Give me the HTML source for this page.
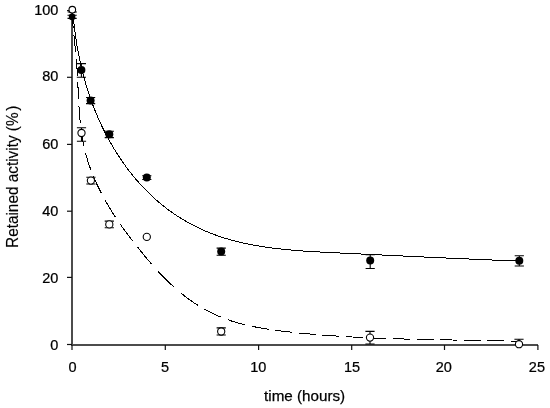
<!DOCTYPE html>
<html><head><meta charset="utf-8"><style>
html,body{margin:0;padding:0;background:#fff;width:550px;height:408px;overflow:hidden}
svg{display:block}
text{font-family:"Liberation Sans",Arial,sans-serif;font-size:15.2px;fill:#000;stroke:#000;stroke-width:0.25px}
text.t{font-size:15.2px;stroke-width:0.25px}
</style></head><body>
<svg width="550" height="408" viewBox="0 0 550 408">
<rect width="550" height="408" fill="#fff"/>
<g stroke="#4c4c4c" stroke-width="2" fill="none">
<path d="M72,10 V345"/>
<path d="M71,345 H538"/>
</g>
<g stroke="#111" stroke-width="1.2" fill="none">
<path d="M72,345 V350"/>
<path d="M165.3,345 V350"/>
<path d="M258.6,345 V350"/>
<path d="M351.7,345 V350"/>
<path d="M444.5,345 V350"/>
<path d="M537.9,345 V350"/>
<path d="M67,344.5 H72"/>
<path d="M67,277.4 H72"/>
<path d="M67,211.2 H72"/>
<path d="M67,144.4 H72"/>
<path d="M67,77.3 H72"/>
<path d="M67,10.6 H72"/>
</g>
<g><text transform="translate(58.4,349.50) scale(0.955,1)" text-anchor="end">0</text><text transform="translate(58.4,282.95) scale(0.955,1)" text-anchor="end">20</text><text transform="translate(58.4,215.65) scale(0.955,1)" text-anchor="end">40</text><text transform="translate(58.4,149.05) scale(0.955,1)" text-anchor="end">60</text><text transform="translate(58.4,81.45) scale(0.955,1)" text-anchor="end">80</text><text transform="translate(58.4,15.45) scale(0.955,1)" text-anchor="end">100</text></g>
<g><text transform="translate(72.6,372.2) scale(0.955,1)" text-anchor="middle">0</text><text transform="translate(165.0,372.2) scale(0.955,1)" text-anchor="middle">5</text><text transform="translate(258.3,372.2) scale(0.955,1)" text-anchor="middle">10</text><text transform="translate(352.1,372.2) scale(0.955,1)" text-anchor="middle">15</text><text transform="translate(443.8,372.2) scale(0.955,1)" text-anchor="middle">20</text><text transform="translate(536.9,372.2) scale(0.955,1)" text-anchor="middle">25</text></g>
<text class="t" x="304.6" y="401.2" text-anchor="middle">time (hours)</text>
<text class="t" transform="translate(17.7,176.8) rotate(-90) scale(0.93,1)" text-anchor="middle" style="font-size:16.5px;stroke-width:0.15px">Retained activity (%<tspan dx="1.8">)</tspan></text>
<path d="M72.01,11.43 L72.02,11.89 L72.05,12.52 L72.08,13.16 L72.11,13.79 L72.14,14.43 L72.18,15.07 L72.21,15.71 L72.25,16.34 L72.29,16.98 L72.33,17.62 L72.37,18.26 L72.42,18.91 L72.46,19.55 L72.51,20.19 L72.56,20.83 L72.61,21.48 L72.66,22.12 L72.71,22.77 L72.76,23.41 L72.82,24.06 L72.87,24.70 L72.93,25.35 L72.98,26.00 L73.04,26.65 L73.10,27.30 L73.16,27.94 L73.21,28.43 M73.87,35.01 L73.92,35.56 L73.99,36.21 L74.06,36.87 L74.13,37.52 L74.20,38.18 L74.27,38.84 L74.34,39.49 L74.41,40.15 L74.48,40.81 L74.55,41.47 L74.62,42.13 L74.69,42.79 L74.76,43.45 L74.83,44.11 L74.90,44.77 L74.97,45.43 L75.04,46.09 L75.11,46.75 L75.18,47.41 L75.25,48.07 L75.32,48.74 L75.39,49.40 L75.45,50.06 L75.52,50.73 L75.59,51.39 L75.65,52.01 M76.27,58.59 L76.31,59.15 L76.37,59.82 L76.43,60.49 L76.48,61.15 L76.54,61.82 L76.59,62.49 L76.64,63.16 L76.69,63.82 L76.74,64.49 L76.79,65.16 L76.83,65.83 L76.88,66.50 L76.93,67.17 L76.97,67.84 L77.01,68.50 L77.06,69.17 L77.10,69.84 L77.14,70.51 L77.18,71.18 L77.22,71.85 L77.26,72.52 L77.30,73.19 L77.34,73.86 L77.37,74.53 L77.41,75.20 L77.43,75.59 M77.76,82.17 L77.79,82.79 L77.83,83.46 L77.86,84.13 L77.89,84.80 L77.92,85.47 L77.95,86.14 L77.98,86.81 L78.01,87.48 L78.04,88.15 L78.08,88.82 L78.11,89.49 L78.14,90.16 L78.17,90.83 L78.20,91.50 L78.23,92.17 L78.26,92.84 L78.29,93.51 L78.33,94.18 L78.36,94.85 L78.39,95.52 L78.42,96.19 L78.46,96.85 L78.49,97.52 L78.52,98.19 L78.56,98.86 L78.57,99.17 M78.94,105.75 L78.98,106.41 L79.02,107.08 L79.06,107.75 L79.11,108.41 L79.15,109.07 L79.20,109.74 L79.24,110.40 L79.29,111.07 L79.34,111.73 L79.38,112.39 L79.43,113.06 L79.48,113.72 L79.53,114.38 L79.59,115.04 L79.64,115.70 L79.70,116.37 L79.75,117.03 L79.81,117.69 L79.87,118.35 L79.93,119.01 L79.99,119.67 L80.05,120.33 L80.11,120.98 L80.18,121.64 L80.24,122.30 L80.29,122.75 M81.05,129.33 L81.12,129.95 L81.21,130.60 L81.30,131.25 L81.39,131.90 L81.48,132.55 L81.57,133.20 L81.67,133.85 L81.76,134.50 L81.86,135.15 L81.96,135.80 L82.07,136.45 L82.17,137.09 L82.28,137.74 L82.39,138.39 L82.50,139.03 L82.61,139.68 L82.73,140.32 L82.84,140.96 L82.96,141.61 L83.08,142.25 L83.21,142.89 L83.33,143.53 L83.46,144.18 L83.59,144.82 L83.73,145.45 L83.86,146.09 L83.91,146.33 M85.48,152.91 L85.63,153.50 L85.80,154.13 L85.97,154.76 L86.14,155.39 L86.32,156.02 L86.50,156.64 L86.68,157.27 L86.86,157.90 L87.05,158.52 L87.24,159.15 L87.43,159.77 L87.62,160.40 L87.82,161.02 L88.01,161.64 L88.21,162.26 L88.42,162.88 L88.62,163.50 L88.83,164.12 L89.04,164.74 L89.25,165.36 L89.47,165.98 L89.68,166.59 L89.90,167.21 L90.12,167.82 L90.35,168.44 L90.57,169.05 L90.80,169.66 L90.89,169.91 M93.51,176.49 L93.71,176.97 L93.96,177.57 L94.22,178.18 L94.48,178.78 L94.74,179.38 L95.00,179.98 L95.27,180.58 L95.54,181.18 L95.81,181.78 L96.08,182.38 L96.35,182.98 L96.62,183.57 L96.90,184.17 L97.18,184.77 L97.46,185.36 L97.74,185.96 L98.03,186.55 L98.31,187.14 L98.60,187.74 L98.89,188.33 L99.18,188.92 L99.47,189.51 L99.77,190.10 L100.06,190.69 L100.36,191.28 L100.66,191.86 L100.96,192.45 L101.26,193.04 L101.50,193.49 M105.05,200.07 L105.34,200.59 L105.66,201.17 L105.99,201.74 L106.32,202.32 L106.65,202.89 L106.98,203.47 L107.31,204.04 L107.64,204.61 L107.97,205.18 L108.31,205.76 L108.65,206.33 L108.99,206.89 L109.33,207.46 L109.67,208.03 L110.01,208.60 L110.35,209.17 L110.70,209.73 L111.05,210.30 L111.40,210.86 L111.75,211.43 L112.10,211.99 L112.45,212.55 L112.81,213.11 L113.17,213.68 L113.52,214.24 L113.88,214.80 L114.24,215.35 L114.61,215.91 L114.97,216.47 L115.34,217.03 L115.36,217.07 M119.84,223.65 L120.10,224.03 L120.49,224.57 L120.88,225.12 L121.27,225.67 L121.66,226.21 L122.05,226.76 L122.44,227.30 L122.84,227.84 L123.23,228.39 L123.63,228.93 L124.03,229.47 L124.43,230.01 L124.83,230.55 L125.23,231.09 L125.63,231.63 L126.03,232.17 L126.44,232.71 L126.84,233.24 L127.24,233.78 L127.65,234.31 L128.06,234.85 L128.46,235.38 L128.87,235.92 L129.28,236.45 L129.68,236.98 L130.09,237.51 L130.50,238.04 L130.91,238.57 L131.31,239.10 L131.72,239.63 L132.13,240.16 L132.51,240.65 M137.65,247.23 L137.98,247.64 L138.39,248.16 L138.80,248.68 L139.21,249.19 L139.62,249.71 L140.03,250.22 L140.44,250.74 L140.85,251.25 L141.26,251.76 L141.67,252.27 L142.08,252.78 L142.50,253.30 L142.91,253.80 L143.33,254.31 L143.74,254.82 L144.16,255.33 L144.57,255.84 L144.99,256.34 L145.41,256.85 L145.82,257.35 L146.24,257.86 L146.66,258.36 L147.08,258.86 L147.50,259.36 L147.93,259.87 L148.35,260.37 L148.77,260.87 L149.20,261.37 L149.62,261.86 L150.05,262.36 L150.48,262.86 L150.91,263.36 L151.34,263.85 L151.67,264.23 M157.57,270.81 L157.93,271.21 L158.38,271.69 L158.84,272.18 L159.29,272.66 L159.75,273.14 L160.20,273.62 L160.66,274.11 L161.12,274.59 L161.58,275.06 L162.04,275.54 L162.51,276.02 L162.97,276.50 L163.44,276.97 L163.91,277.45 L164.38,277.92 L164.85,278.39 L165.32,278.86 L165.80,279.33 L166.27,279.80 L166.75,280.27 L167.23,280.74 L167.71,281.20 L168.19,281.67 L168.67,282.13 L169.16,282.59 L169.64,283.05 L170.13,283.51 L170.62,283.97 L171.11,284.43 L171.60,284.88 L172.09,285.34 L172.59,285.79 L173.08,286.24 L173.58,286.69 L174.08,287.14 L174.27,287.31 M180.85,292.95 L181.19,293.23 L181.71,293.65 L182.23,294.07 L182.75,294.49 L183.27,294.91 L183.80,295.32 L184.32,295.73 L184.85,296.14 L185.38,296.55 L185.91,296.95 L186.44,297.36 L186.97,297.76 L187.50,298.16 L188.03,298.55 L188.57,298.95 L189.11,299.34 L189.64,299.73 L190.18,300.12 L190.72,300.51 L191.27,300.89 L191.81,301.27 L192.35,301.65 L192.90,302.02 L193.44,302.40 L193.99,302.77 L194.54,303.14 L195.09,303.50 L195.64,303.86 L196.20,304.22 L196.75,304.58 L197.31,304.94 L197.85,305.28 M204.43,309.19 L204.83,309.42 L205.40,309.73 L205.97,310.05 L206.55,310.36 L207.13,310.67 L207.70,310.97 L208.28,311.28 L208.86,311.58 L209.44,311.88 L210.02,312.17 L210.61,312.46 L211.19,312.75 L211.78,313.04 L212.36,313.32 L212.95,313.61 L213.54,313.89 L214.13,314.16 L214.72,314.44 L215.31,314.71 L215.90,314.98 L216.50,315.24 L217.09,315.50 L217.69,315.77 L218.29,316.02 L218.89,316.28 L219.49,316.53 L220.09,316.78 L220.69,317.03 L221.29,317.27 L221.43,317.33 M228.01,319.80 L228.61,320.01 L229.23,320.22 L229.85,320.43 L230.47,320.63 L231.09,320.84 L231.71,321.04 L232.33,321.24 L232.95,321.43 L233.58,321.63 L234.20,321.82 L234.83,322.01 L235.45,322.19 L236.08,322.38 L236.71,322.56 L237.34,322.74 L237.97,322.92 L238.60,323.09 L239.23,323.27 L239.86,323.44 L240.50,323.61 L241.13,323.77 L241.77,323.94 L242.40,324.10 L243.04,324.26 L243.68,324.42 L244.32,324.58 L244.96,324.73 L245.01,324.75 M251.59,326.22 L252.03,326.32 L252.68,326.45 L253.33,326.58 L253.98,326.71 L254.63,326.84 L255.28,326.97 L255.93,327.10 L256.58,327.22 L257.23,327.34 L257.88,327.46 L258.54,327.58 L259.19,327.70 L259.84,327.82 L260.50,327.94 L261.15,328.05 L261.81,328.16 L262.46,328.28 L263.12,328.39 L263.78,328.49 L264.43,328.60 L265.09,328.71 L265.75,328.82 L266.41,328.92 L267.07,329.02 L267.73,329.13 L268.39,329.23 L268.59,329.26 M275.17,330.21 L275.67,330.28 L276.33,330.37 L277.00,330.46 L277.66,330.54 L278.32,330.63 L278.99,330.72 L279.65,330.80 L280.32,330.89 L280.98,330.97 L281.65,331.05 L282.31,331.14 L282.98,331.22 L283.65,331.30 L284.31,331.38 L284.98,331.46 L285.64,331.54 L286.31,331.61 L286.98,331.69 L287.64,331.77 L288.31,331.84 L288.98,331.92 L289.64,331.99 L290.31,332.07 L290.98,332.14 L291.65,332.21 L292.17,332.27 M298.75,332.95 L299.20,333.00 L299.87,333.06 L300.54,333.13 L301.20,333.19 L301.87,333.26 L302.53,333.32 L303.20,333.39 L303.87,333.45 L304.53,333.51 L305.20,333.57 L305.86,333.64 L306.53,333.70 L307.19,333.76 L307.86,333.82 L308.52,333.88 L309.19,333.94 L309.85,334.00 L310.52,334.06 L311.18,334.12 L311.85,334.17 L312.51,334.23 L313.18,334.29 L313.84,334.35 L314.51,334.40 L315.17,334.46 L315.75,334.51 M322.33,335.04 L322.91,335.08 L323.58,335.13 L324.24,335.18 L324.90,335.23 L325.57,335.28 L326.23,335.33 L326.89,335.38 L327.55,335.43 L328.22,335.48 L328.88,335.53 L329.54,335.57 L330.20,335.62 L330.87,335.67 L331.53,335.71 L332.19,335.76 L332.85,335.81 L333.52,335.85 L334.18,335.90 L334.84,335.94 L335.50,335.99 L336.16,336.03 L336.83,336.07 L337.49,336.12 L338.15,336.16 L338.81,336.20 L339.33,336.23 M345.91,336.64 L346.52,336.67 L347.19,336.71 L347.85,336.75 L348.51,336.79 L349.17,336.82 L349.83,336.86 L350.49,336.90 L351.15,336.93 L351.81,336.97 L352.47,337.00 L353.13,337.04 L353.79,337.08 L354.45,337.11 L355.11,337.14 L355.77,337.18 L356.43,337.21 L357.09,337.25 L357.75,337.28 L358.41,337.31 L359.07,337.35 L359.73,337.38 L360.39,337.41 L361.05,337.44 L361.71,337.47 L362.37,337.51 L362.91,337.53 M369.49,337.83 L370.07,337.85 L370.73,337.88 L371.39,337.91 L372.05,337.93 L372.71,337.96 L373.37,337.99 L374.03,338.02 L374.69,338.04 L375.34,338.07 L376.00,338.09 L376.66,338.12 L377.32,338.15 L377.98,338.17 L378.64,338.20 L379.30,338.22 L379.96,338.25 L380.62,338.27 L381.28,338.29 L381.94,338.32 L382.60,338.34 L383.25,338.37 L383.91,338.39 L384.57,338.41 L385.23,338.43 L385.89,338.46 L386.49,338.48 M393.07,338.69 L393.58,338.71 L394.24,338.73 L394.90,338.75 L395.56,338.77 L396.22,338.79 L396.88,338.81 L397.53,338.83 L398.19,338.84 L398.85,338.86 L399.51,338.88 L400.17,338.90 L400.83,338.92 L401.49,338.94 L402.15,338.96 L402.81,338.97 L403.47,338.99 L404.12,339.01 L404.78,339.03 L405.44,339.04 L406.10,339.06 L406.76,339.08 L407.42,339.10 L408.08,339.11 L408.74,339.13 L409.40,339.14 L410.06,339.16 L410.07,339.16 M416.65,339.32 L417.09,339.33 L417.75,339.34 L418.41,339.36 L419.07,339.37 L419.73,339.39 L420.39,339.40 L421.05,339.41 L421.71,339.43 L422.37,339.44 L423.03,339.46 L423.69,339.47 L424.35,339.48 L425.01,339.50 L425.67,339.51 L426.33,339.52 L426.99,339.54 L427.65,339.55 L428.31,339.56 L428.97,339.58 L429.63,339.59 L430.29,339.60 L430.95,339.62 L431.61,339.63 L432.27,339.64 L432.93,339.65 L433.59,339.67 L433.65,339.67 M440.23,339.79 L440.85,339.80 L441.52,339.81 L442.18,339.82 L442.84,339.84 L443.50,339.85 L444.16,339.86 L444.82,339.87 L445.48,339.88 L446.14,339.89 L446.80,339.90 L447.47,339.92 L448.13,339.93 L448.79,339.94 L449.45,339.95 L450.11,339.96 L450.77,339.97 L451.44,339.98 L452.10,340.00 L452.76,340.01 L453.42,340.02 L454.08,340.03 L454.75,340.04 L455.41,340.05 L456.07,340.06 L456.73,340.07 L457.23,340.08 M463.81,340.19 L464.46,340.21 L465.13,340.22 L465.79,340.23 L466.45,340.24 L467.12,340.25 L467.78,340.26 L468.45,340.27 L469.11,340.29 L469.77,340.30 L470.44,340.31 L471.10,340.32 L471.76,340.33 L472.43,340.34 L473.09,340.35 L473.76,340.37 L474.42,340.38 L475.09,340.39 L475.75,340.40 L476.42,340.41 L477.08,340.43 L477.75,340.44 L478.41,340.45 L479.08,340.46 L479.74,340.47 L480.41,340.49 L480.81,340.49 M487.39,340.62 L487.95,340.63 L488.62,340.64 L489.29,340.66 L489.95,340.67 L490.62,340.68 L491.29,340.70 L491.95,340.71 L492.62,340.72 L493.29,340.74 L493.95,340.75 L494.62,340.77 L495.29,340.78 L495.96,340.80 L496.62,340.81 L497.29,340.82 L497.96,340.84 L498.63,340.85 L499.30,340.87 L499.97,340.88 L500.63,340.90 L501.30,340.91 L501.97,340.93 L502.64,340.94 L503.31,340.96 L503.98,340.98 L504.39,340.99 M510.97,341.15 L511.57,341.16 L512.24,341.18 L512.91,341.20 L513.58,341.22 L514.25,341.23 L514.92,341.25 L515.60,341.27 L516.27,341.29 L516.94,341.31 L517.61,341.33 L518.28,341.35 L518.95,341.36 L519.18,341.37" stroke="#000" stroke-width="1" fill="none" shape-rendering="crispEdges"/>
<path d="M73.23,16.49 L73.33,17.62 L73.44,18.75 L73.56,19.88 L73.67,21.01 L73.79,22.14 L73.91,23.27 L74.04,24.40 L74.16,25.53 L74.30,26.66 L74.43,27.80 L74.57,28.93 L74.71,30.06 L74.86,31.20 L75.01,32.33 L75.16,33.46 L75.31,34.60 L75.47,35.73 L75.64,36.87 L75.80,38.00 L75.97,39.14 L76.15,40.27 L76.33,41.41 L76.51,42.54 L76.69,43.68 L76.88,44.81 L77.07,45.95 L77.27,47.08 L77.47,48.22 L77.67,49.35 L77.88,50.48 L78.09,51.62 L78.30,52.75 L78.52,53.89 L78.74,55.02 L78.97,56.15 L79.20,57.29 L79.43,58.42 L79.67,59.55 L79.91,60.68 L80.16,61.81 L80.41,62.95 L80.66,64.08 L80.92,65.21 L81.18,66.34 L81.44,67.46 L81.71,68.59 L81.99,69.72 L82.26,70.85 L82.55,71.97 L82.83,73.10 L83.12,74.23 L83.42,75.35 L83.71,76.47 L84.02,77.60 L84.32,78.72 L84.63,79.84 L84.95,80.96 L85.27,82.08 L85.59,83.20 L85.92,84.32 L86.25,85.43 L86.59,86.55 L86.93,87.66 L87.27,88.78 L87.62,89.89 L87.98,91.00 L88.33,92.11 L88.70,93.22 L89.06,94.33 L89.44,95.44 L89.81,96.54 L90.19,97.65 L90.58,98.75 L90.97,99.86 L91.36,100.96 L91.76,102.06 L92.16,103.15 L92.57,104.25 L92.98,105.35 L93.40,106.44 L93.82,107.53 L94.25,108.63 L94.68,109.71 L95.11,110.80 L95.55,111.89 L96.00,112.97 L96.45,114.06 L96.90,115.14 L97.36,116.22 L97.83,117.30 L98.30,118.38 L98.77,119.45 L99.25,120.52 L99.73,121.59 L100.22,122.66 L100.71,123.73 L101.21,124.80 L101.71,125.86 L102.22,126.92 L102.73,127.98 L103.25,129.04 L103.77,130.10 L104.30,131.15 L104.83,132.20 L105.37,133.25 L105.91,134.30 L106.46,135.34 L107.01,136.38 L107.56,137.42 L108.12,138.46 L108.69,139.49 L109.26,140.52 L109.83,141.55 L110.41,142.58 L110.99,143.60 L111.58,144.62 L112.17,145.64 L112.77,146.65 L113.37,147.67 L113.98,148.67 L114.59,149.68 L115.21,150.68 L115.83,151.68 L116.46,152.68 L117.09,153.67 L117.72,154.66 L118.36,155.65 L119.00,156.63 L119.65,157.61 L120.31,158.59 L120.96,159.56 L121.63,160.53 L122.29,161.50 L122.96,162.46 L123.64,163.42 L124.32,164.38 L125.00,165.33 L125.69,166.28 L126.39,167.22 L127.09,168.16 L127.79,169.09 L128.50,170.03 L129.21,170.95 L129.92,171.88 L130.65,172.80 L131.37,173.71 L132.10,174.63 L132.83,175.53 L133.57,176.44 L134.32,177.33 L135.06,178.23 L135.81,179.12 L136.57,180.00 L137.33,180.88 L138.10,181.76 L138.87,182.63 L139.64,183.50 L140.42,184.36 L141.20,185.22 L141.99,186.07 L142.78,186.92 L143.57,187.76 L144.37,188.60 L145.18,189.44 L145.99,190.26 L146.80,191.09 L147.62,191.90 L148.44,192.72 L149.26,193.53 L150.09,194.33 L150.93,195.12 L151.76,195.92 L152.61,196.70 L153.45,197.48 L154.30,198.26 L155.16,199.03 L156.02,199.79 L156.88,200.55 L157.75,201.31 L158.62,202.05 L159.50,202.80 L160.38,203.53 L161.26,204.26 L162.15,204.99 L163.05,205.71 L163.94,206.42 L164.84,207.12 L165.75,207.82 L166.66,208.52 L167.57,209.21 L168.49,209.89 L169.41,210.57 L170.34,211.24 L171.27,211.90 L172.20,212.56 L173.14,213.21 L174.08,213.86 L175.02,214.50 L175.97,215.13 L176.92,215.76 L177.88,216.38 L178.84,216.99 L179.80,217.60 L180.77,218.21 L181.74,218.80 L182.72,219.40 L183.69,219.98 L184.68,220.56 L185.66,221.13 L186.65,221.70 L187.64,222.26 L188.64,222.81 L189.63,223.36 L190.64,223.90 L191.64,224.44 L192.65,224.97 L193.66,225.49 L194.68,226.01 L195.70,226.52 L196.72,227.02 L197.74,227.52 L198.77,228.02 L199.80,228.50 L200.83,228.98 L201.87,229.46 L202.91,229.92 L203.95,230.38 L205.00,230.84 L206.05,231.29 L207.10,231.73 L208.15,232.17 L209.21,232.60 L210.27,233.02 L211.33,233.44 L212.40,233.85 L213.46,234.26 L214.53,234.66 L215.61,235.05 L216.68,235.44 L217.76,235.82 L218.84,236.19 L219.93,236.56 L221.01,236.92 L222.10,237.28 L223.19,237.63 L224.28,237.97 L225.38,238.31 L226.48,238.64 L227.58,238.97 L228.68,239.29 L229.78,239.61 L230.89,239.92 L232.00,240.23 L233.11,240.53 L234.22,240.82 L235.34,241.11 L236.45,241.40 L237.57,241.68 L238.69,241.95 L239.82,242.22 L240.94,242.49 L242.07,242.74 L243.20,243.00 L244.33,243.25 L245.46,243.50 L246.59,243.74 L247.73,243.97 L248.87,244.20 L250.01,244.43 L251.15,244.65 L252.29,244.87 L253.43,245.09 L254.58,245.30 L255.73,245.50 L256.88,245.70 L258.03,245.90 L259.18,246.09 L260.33,246.28 L261.49,246.47 L262.64,246.65 L263.80,246.83 L264.96,247.00 L266.12,247.17 L267.28,247.34 L268.44,247.50 L269.60,247.66 L270.77,247.82 L271.93,247.97 L273.10,248.12 L274.27,248.27 L275.44,248.41 L276.61,248.55 L277.78,248.69 L278.95,248.82 L280.12,248.95 L281.30,249.08 L282.47,249.21 L283.64,249.33 L284.82,249.45 L286.00,249.57 L287.17,249.68 L288.35,249.79 L289.53,249.90 L290.71,250.01 L291.89,250.11 L293.07,250.21 L294.25,250.31 L295.43,250.41 L296.62,250.51 L297.80,250.60 L298.98,250.69 L300.16,250.78 L301.35,250.87 L302.53,250.95 L303.72,251.04 L304.90,251.12 L306.09,251.20 L307.27,251.28 L308.46,251.35 L309.64,251.43 L310.83,251.50 L312.01,251.57 L313.20,251.65 L314.38,251.72 L315.57,251.78 L316.76,251.85 L317.94,251.92 L319.13,251.98 L320.31,252.05 L321.50,252.11 L322.68,252.17 L323.87,252.23 L325.05,252.29 L326.24,252.35 L327.42,252.41 L328.60,252.47 L329.79,252.53 L330.97,252.59 L332.15,252.64 L333.34,252.70 L334.52,252.76 L335.70,252.81 L336.88,252.87 L338.06,252.92 L339.24,252.98 L340.42,253.03 L341.59,253.09 L342.77,253.15 L343.95,253.20 L345.13,253.26 L346.30,253.31 L347.48,253.37 L348.65,253.42 L349.82,253.48 L351.00,253.53 L352.17,253.59 L353.34,253.65 L354.51,253.70 L355.68,253.76 L356.86,253.81 L358.02,253.87 L359.19,253.92 L360.36,253.98 L361.53,254.03 L362.70,254.09 L363.87,254.14 L365.03,254.20 L366.20,254.26 L367.37,254.31 L368.53,254.37 L369.70,254.42 L370.86,254.48 L372.02,254.53 L373.19,254.59 L374.35,254.64 L375.51,254.70 L376.68,254.75 L377.84,254.81 L379.00,254.86 L380.16,254.92 L381.32,254.97 L382.48,255.03 L383.64,255.09 L384.80,255.14 L385.96,255.20 L387.12,255.25 L388.28,255.31 L389.44,255.36 L390.60,255.42 L391.76,255.47 L392.91,255.53 L394.07,255.58 L395.23,255.63 L396.39,255.69 L397.54,255.74 L398.70,255.80 L399.86,255.85 L401.01,255.91 L402.17,255.96 L403.32,256.02 L404.48,256.07 L405.63,256.13 L406.79,256.18 L407.94,256.23 L409.10,256.29 L410.25,256.34 L411.41,256.40 L412.56,256.45 L413.71,256.51 L414.87,256.56 L416.02,256.61 L417.18,256.67 L418.33,256.72 L419.48,256.78 L420.64,256.83 L421.79,256.88 L422.94,256.94 L424.10,256.99 L425.25,257.04 L426.40,257.10 L427.56,257.15 L428.71,257.20 L429.86,257.26 L431.02,257.31 L432.17,257.36 L433.32,257.42 L434.48,257.47 L435.63,257.52 L436.78,257.57 L437.93,257.63 L439.09,257.68 L440.24,257.73 L441.39,257.79 L442.55,257.84 L443.70,257.89 L444.86,257.94 L446.01,257.99 L447.16,258.05 L448.32,258.10 L449.47,258.15 L450.63,258.20 L451.78,258.25 L452.94,258.31 L454.09,258.36 L455.24,258.41 L456.40,258.46 L457.56,258.51 L458.71,258.56 L459.87,258.61 L461.02,258.67 L462.18,258.72 L463.33,258.77 L464.49,258.82 L465.65,258.87 L466.81,258.92 L467.96,258.97 L469.12,259.02 L470.28,259.07 L471.44,259.12 L472.59,259.17 L473.75,259.22 L474.91,259.27 L476.07,259.32 L477.23,259.37 L478.39,259.42 L479.55,259.47 L480.71,259.52 L481.87,259.57 L483.04,259.62 L484.20,259.67 L485.36,259.72 L486.52,259.77 L487.69,259.81 L488.85,259.86 L490.01,259.91 L491.18,259.96 L492.34,260.01 L493.51,260.06 L494.67,260.10 L495.84,260.15 L497.01,260.20 L498.17,260.25 L499.34,260.29 L500.51,260.34 L501.68,260.39 L502.85,260.44 L504.02,260.48 L505.19,260.53 L506.36,260.58 L507.53,260.62 L508.70,260.67 L509.87,260.72 L511.05,260.76 L512.22,260.81 L513.39,260.85 L514.57,260.90 L515.74,260.95 L516.92,260.99 L518.10,261.04 L518.88,261.07" stroke="#000" stroke-width="1" fill="none" shape-rendering="crispEdges"/>
<g stroke="#000" stroke-width="1.1" fill="none">
<path d="M72.3,9.7 V12.0 M67.7,12.0 H76.9"/>
<path d="M81.5,133.0 V127.7 M76.9,127.7 H86.1"/>
<path d="M81.5,133.0 V141.3 M76.9,141.3 H86.1"/>
<path d="M90.9,180.6 V177.2 M86.3,177.2 H95.5"/>
<path d="M90.9,180.6 V184.0 M86.3,184.0 H95.5"/>
<path d="M109.3,224.4 V221.1 M104.7,221.1 H113.9"/>
<path d="M109.3,224.4 V227.7 M104.7,227.7 H113.9"/>
<path d="M221.2,331.5 V327.9 M216.6,327.9 H225.8"/>
<path d="M221.2,331.5 V335.0 M216.6,335.0 H225.8"/>
<path d="M370.0,337.6 V331.4 M365.4,331.4 H374.6"/>
<path d="M370.0,337.6 V344.0 M365.4,344.0 H374.6"/>
<path d="M519.0,344.2 V339.2 M514.4,339.2 H523.6"/>
<path d="M72.1,16.9 V15.3 M67.5,15.3 H76.7"/>
<path d="M72.1,16.9 V18.4 M67.5,18.4 H76.7"/>
<path d="M81.4,70.0 V63.6 M76.8,63.6 H86.0"/>
<path d="M81.4,70.0 V77.3 M76.8,77.3 H86.0"/>
<path d="M90.6,100.6 V97.5 M86.0,97.5 H95.2"/>
<path d="M90.6,100.6 V103.6 M86.0,103.6 H95.2"/>
<path d="M109.3,134.3 V131.3 M104.7,131.3 H113.9"/>
<path d="M109.3,134.3 V137.6 M104.7,137.6 H113.9"/>
<path d="M146.8,177.4 V175.8 M142.2,175.8 H151.4"/>
<path d="M146.8,177.4 V179.5 M142.2,179.5 H151.4"/>
<path d="M221.2,251.6 V248.1 M216.6,248.1 H225.8"/>
<path d="M221.2,251.6 V255.3 M216.6,255.3 H225.8"/>
<path d="M370.2,260.4 V254.6 M365.6,254.6 H374.8"/>
<path d="M370.2,260.4 V268.5 M365.6,268.5 H374.8"/>
<path d="M519.3,260.7 V255.7 M514.7,255.7 H523.9"/>
<path d="M519.3,260.7 V266.0 M514.7,266.0 H523.9"/>
</g>
<g stroke="#000" stroke-width="1.1" fill="#fff">
<circle cx="72.3" cy="9.7" r="3.3"/>
<circle cx="81.5" cy="133.0" r="3.6"/>
<circle cx="90.9" cy="180.6" r="3.6"/>
<circle cx="109.3" cy="224.4" r="3.6"/>
<circle cx="146.8" cy="236.9" r="3.6"/>
<circle cx="221.2" cy="331.5" r="3.6"/>
<circle cx="370.0" cy="337.6" r="3.6"/>
<circle cx="519.0" cy="344.2" r="3.6"/>
</g>
<g fill="#000">
<circle cx="72.1" cy="16.9" r="3.3"/>
<circle cx="81.4" cy="70.0" r="4.0"/>
<circle cx="90.6" cy="100.6" r="4.0"/>
<circle cx="109.3" cy="134.3" r="4.0"/>
<circle cx="146.8" cy="177.4" r="4.0"/>
<circle cx="221.2" cy="251.6" r="4.0"/>
<circle cx="370.2" cy="260.4" r="4.0"/>
<circle cx="519.3" cy="260.7" r="4.0"/>
</g>
</svg>
</body></html>
